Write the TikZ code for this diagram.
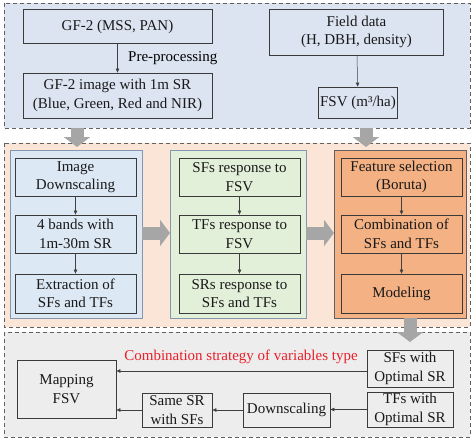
\documentclass[tikz,border=0pt]{standalone}
\usepackage{fontspec}
\setmainfont{Liberation Serif}
\usetikzlibrary{arrows.meta,calc}
\definecolor{topbg}{HTML}{DCE4F2}
\definecolor{midbg}{HTML}{FBE5D6}
\definecolor{botbg}{HTML}{EDEDED}
\definecolor{bluebox}{HTML}{DDE8F5}
\definecolor{greenbox}{HTML}{E2EFD9}
\definecolor{orangebox}{HTML}{F4B183}
\definecolor{panelline}{HTML}{8497B0}
\definecolor{boxline}{HTML}{3A3A3A}
\definecolor{bigarrow}{HTML}{A6A6A6}
\definecolor{redtext}{HTML}{E8202A}
\tikzset{
  panel/.style={draw=boxline!80, line width=0.9pt, dash pattern=on 4pt off 3pt},
  subpanel/.style={draw=panelline, line width=0.9pt},
  box/.style={draw=boxline, line width=0.8pt, align=center, inner sep=1pt,
    font=\fontsize{15}{18.5}\selectfont, text=black!90},
  thin/.style={draw=black!75, line width=0.5pt, -{Triangle[length=4pt,width=3.5pt]}},
  thick arrow/.style={draw=bigarrow, line width=13pt, -{Triangle[length=10pt,width=26pt]}, shorten >=0pt},
}
\begin{document}
\begin{tikzpicture}[x=1pt,y=-1pt]
\useasboundingbox (0,0) rectangle (474,442);
\fill[white] (0,0) rectangle (474,442);
% panels
\path[panel, fill=topbg] (4,3) rectangle (470,128);
\path[panel, fill=midbg] (4,143) rectangle (470,327);
\path[panel, fill=botbg] (4,332) rectangle (470,437);
\path[subpanel, fill=bluebox] (10,150) rectangle (142,318);
\path[subpanel, fill=greenbox] (170,150) rectangle (306,318);
\path[draw=boxline!80, line width=0.9pt, fill=orangebox] (334,150) rectangle (466,318);

% top
\node[box, minimum width=189pt, minimum height=34pt] (gf2) at (117.5,26.5) {GF-2 (MSS, PAN)};
\node[box, minimum width=189pt, minimum height=45pt] (gf2img) at (117.5,95.5) {GF-2 image with 1m SR\\(Blue, Green, Red and NIR)};
\node[box, minimum width=174pt, minimum height=46pt] (field) at (356.5,32) {Field data\\(H, DBH, density)};
\node[box, minimum width=79pt, minimum height=31pt] (fsv) at (358,102.5) {FSV (m³/ha)};
\node[anchor=west, font=\fontsize{15}{18}\selectfont, inner sep=0pt] (pre) at (128,58) {Pre-processing};
\draw[thin] (gf2) -- (gf2img);
\draw[thin] (field) -- (fsv);

% middle inner boxes
\node[box, minimum width=121pt, minimum height=38pt] (l1) at (75.5,177) {Image\\Downscaling};
\node[box, minimum width=121pt, minimum height=38pt] (l2) at (75.5,234) {4 bands with\\1m-30m SR};
\node[box, minimum width=121pt, minimum height=39pt] (l3) at (75.5,293.5) {Extraction of\\SFs and TFs};
\node[box, minimum width=121pt, minimum height=38pt] (m1) at (239.5,177) {SFs response to\\FSV};
\node[box, minimum width=121pt, minimum height=38pt] (m2) at (239.5,234) {TFs response to\\FSV};
\node[box, minimum width=121pt, minimum height=39pt] (m3) at (239.5,293.5) {SRs response to\\SFs and TFs};
\node[box, minimum width=121pt, minimum height=38pt] (r1) at (401.5,177) {Feature selection\\(Boruta)};
\node[box, minimum width=121pt, minimum height=38pt] (r2) at (401.5,234) {Combination of\\SFs and TFs};
\node[box, minimum width=121pt, minimum height=39pt] (r3) at (401.5,293.5) {Modeling};
\draw[thin] (l1) -- (l2);
\draw[thin] (l2) -- (l3);
\draw[thin] (m1) -- (m2);
\draw[thin] (m2) -- (m3);
\draw[thin] (r1) -- (r2);
\draw[thin] (r2) -- (r3);

% big arrows
\coordinate (a1s) at (77,128); \coordinate (a1e) at (77,147);
\coordinate (a2s) at (366,128); \coordinate (a2e) at (366,147);
\coordinate (a3s) at (142,233); \coordinate (a3e) at (170,233);
\coordinate (a4s) at (306,233); \coordinate (a4e) at (334,233);
\coordinate (a5s) at (410,318); \coordinate (a5e) at (410,342);
\draw[thick arrow] (a1s) -- (a1e);
\draw[thick arrow] (a2s) -- (a2e);
\draw[thick arrow] (a3s) -- (a3e);
\draw[thick arrow] (a4s) -- (a4e);
\draw[thick arrow] (a5s) -- (a5e);

% bottom
\node[box, minimum width=99pt, minimum height=58pt] (map) at (66.5,389) {Mapping\\FSV};
\node[box, minimum width=86pt, minimum height=37pt] (sfs) at (410,368.5) {SFs with\\Optimal SR};
\node[box, minimum width=86pt, minimum height=35pt] (tfs) at (410,409.5) {TFs with\\Optimal SR};
\node[box, minimum width=87pt, minimum height=34pt] (down) at (286.5,410) {Downscaling};
\node[box, minimum width=70pt, minimum height=34pt] (same) at (177,410) {Same SR\\with SFs};
\node[text=redtext, font=\fontsize{15}{18}\selectfont, inner sep=0pt] (comb) at (241,357) {Combination strategy of variables type};
\draw[thin] ([yshift=-2.5pt]sfs.west) -- ([yshift=-2.5pt]sfs.west -| map.east);
\draw[thin] (tfs.west) -- (tfs.west -| down.east);
\draw[thin] (down.west) -- (down.west -| same.east);
\draw[thin] (same.west) -- (same.west -| map.east);
\end{tikzpicture}
\end{document}
